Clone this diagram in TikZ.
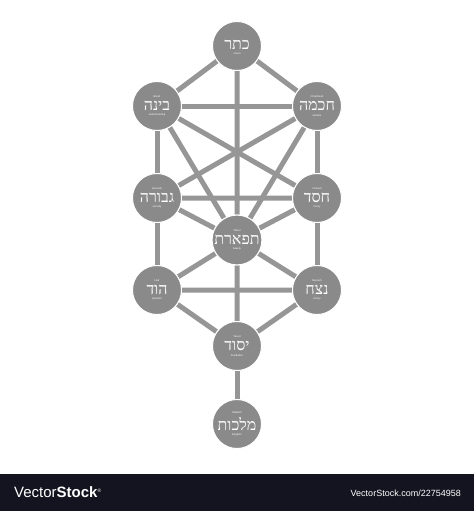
\documentclass[tikz,border=0pt]{standalone}
\usepackage{fontspec}
\setmainfont{Liberation Sans}
\newfontfamily\hebfont[Script=Hebrew]{Liberation Serif}
\TeXXeTstate=1
\usetikzlibrary{positioning, backgrounds}
\definecolor{sefgray}{RGB}{138,138,138}
\definecolor{pathgray}{RGB}{150,150,150}
\definecolor{barblack}{RGB}{20,20,32}
\newcommand{\heb}[1]{{\hebfont\beginR #1\endR}}
\newcommand{\sefname}[3]{\shortstack{{\fontsize{2.6}{3}\selectfont #1}\\[0.5pt]{\fontsize{16}{16}\selectfont\heb{#2}}\\[0.5pt]{\fontsize{2.6}{3}\selectfont #3}}}

\begin{document}
\begin{tikzpicture}[x=1pt, y=-1pt,
		sefira/.style = {circle, fill=sefgray, draw=white, line width=1pt, minimum size=49pt, inner sep=0pt, text=white},
		path/.style = {draw=pathgray, line width=5pt}]
			\useasboundingbox (0,0) rectangle (474,511);
			% the ten sefirot
			\node [sefira] (keter) at (237,46) {\sefname{}{כתר}{crown}};
			\node [sefira] (binah) at (157,106) {\sefname{Binah}{בינה}{understanding}};
			\node [sefira] (chokhmah) at (317,106) {\sefname{Chokhmah}{חכמה}{wisdom}};
			\node [sefira] (gevurah) at (157,198) {\sefname{Gevurah}{גבורה}{severity}};
			\node [sefira] (chesed) at (317,198) {\sefname{Chesed}{חסד}{mercy}};
			\node [sefira] (tiferet) at (237,240) {\sefname{Tiferet}{תפארת}{beauty}};
			\node [sefira] (hod) at (157,290) {\sefname{Hod}{הוד}{splendor}};
			\node [sefira] (netzach) at (317,290) {\sefname{Netzach}{נצח}{victory}};
			\node [sefira] (yesod) at (237,346) {\sefname{Yesod}{יסוד}{foundation}};
			\node [sefira] (malkuth) at (237,424) {\sefname{Malkuth}{מלכות}{kingdom}};
			% the paths, behind the circles
			\begin{scope}[on background layer]
			\fill [white] (0,0) rectangle (474,474);
			\path [path] (keter) -- (binah) (keter) -- (chokhmah) (keter) -- (tiferet);
			\path [path] (binah) -- (chokhmah) (binah) -- (gevurah) (chokhmah) -- (chesed);
			\path [path] (binah) -- (chesed) (chokhmah) -- (gevurah);
			\path [path] (binah) -- (tiferet) (chokhmah) -- (tiferet);
			\path [path] (gevurah) -- (chesed) (gevurah) -- (tiferet) (chesed) -- (tiferet);
			\path [path] (gevurah) -- (hod) (chesed) -- (netzach);
			\path [path] (tiferet) -- (hod) (tiferet) -- (netzach) (tiferet) -- (yesod);
			\path [path] (hod) -- (netzach) (hod) -- (yesod) (netzach) -- (yesod);
			\path [path] (yesod) -- (malkuth);
			\end{scope}
			% bottom bar
			\fill [barblack] (0,474) rectangle (474,511);
			\node [anchor=west, text=white, font=\fontsize{15}{15}\selectfont, inner sep=0pt] (brand) at (14,492) {Vector\textbf{Stock}\textsuperscript{\tiny\textregistered}};
			\node [anchor=east, text=white, font=\fontsize{9}{9}\selectfont, inner sep=0pt] (imgid) at (461,493) {VectorStock.com/22754958};
		\end{tikzpicture}
\end{document}
